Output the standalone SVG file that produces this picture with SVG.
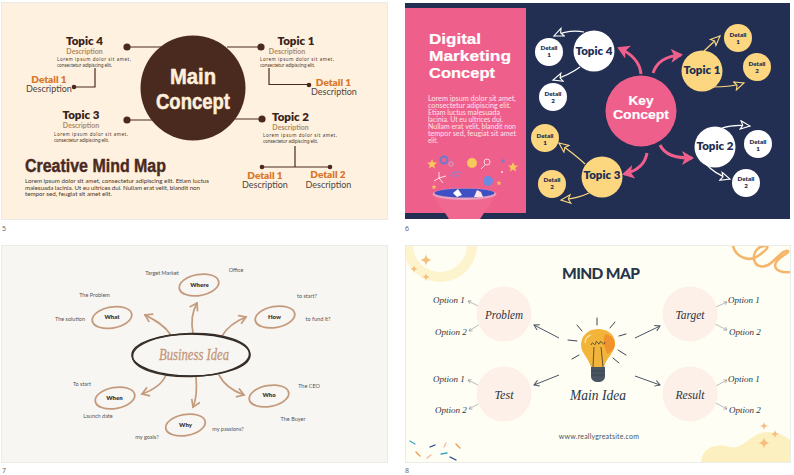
<svg xmlns="http://www.w3.org/2000/svg" width="794" height="475" viewBox="0 0 794 475">
<style>
text{font-family:"Lato","Liberation Sans",sans-serif}
.pg{font-size:7px;fill:#666;font-family:"Noto Sans",sans-serif}
.m{text-anchor:middle}
.cond{font-family:"Liberation Sans","Roboto",sans-serif;font-weight:700}
.t1{font-size:11.500px;font-weight:800;fill:#3A2318;text-anchor:middle}
.d1{font-size:7px;font-weight:700;fill:#B08A5F;text-anchor:middle}
.l1{font-size:4.500px;fill:#4A3428;font-family:"Noto Sans",sans-serif}
.o1{font-size:10px;font-weight:800;fill:#D9772B;text-anchor:middle}
.s1{font-size:9px;fill:#54443A;text-anchor:middle}
.ln1{fill:none;stroke:#4A2A1E;stroke-width:1.200}
.dot{fill:#4A2A1E}
.t2{font-size:11.500px;font-weight:800;text-anchor:middle;fill:#232F52}
.d2{font-size:6.200px;font-weight:800;text-anchor:middle;fill:#232F52}
.pk{fill:none;stroke:#EF5F8C;stroke-width:3;marker-end:url(#pinkHead)}
.wa{fill:none;stroke:#fff;stroke-width:1.200;marker-end:url(#whiteHead)}
.ya{fill:none;stroke:#FDD77F;stroke-width:1.200;marker-end:url(#yellowHead)}
.e3{fill:none;stroke:#C49A7C;stroke-width:1.800}
.t3{font-size:6px;font-weight:800;fill:#3d3833;text-anchor:middle}
.l3{font-size:5.500px;fill:#555;text-anchor:middle}
.a3{fill:none;stroke:#C49A7C;stroke-width:1.700;stroke-linecap:round;marker-end:url(#brownHead)}
.c4{fill:#FDF0E8}
.sc{font-family:"Liberation Serif",serif;font-style:italic;fill:#2A3442;text-anchor:middle}
.op{font-size:9px}
.big{fill:none;stroke:#4A5462;stroke-width:1;marker-end:url(#greyHead)}
.thin{fill:none;stroke:#8A8F94;stroke-width:.6;marker-end:url(#thinHead)}
.ray{stroke:#3D4650;stroke-width:1;stroke-linecap:round}
.star{fill:#F6BE7C}
.conf{stroke-width:1.300;stroke-linecap:round}
</style>
<defs>
<marker id="pinkHead" markerUnits="userSpaceOnUse" markerWidth="16" markerHeight="16" refX="10" refY="7" orient="auto"><path d="M0 0L12 7L0 14L3 7Z" fill="#EF5F8C"/></marker>
<marker id="whiteHead" markerUnits="userSpaceOnUse" markerWidth="13" markerHeight="11" refX="10.500" refY="5" orient="auto"><path d="M1 .8L10.500 5L1 9.200L3.200 5Z" fill="#232F52" stroke="#fff" stroke-width="1.100"/></marker>
<marker id="yellowHead" markerUnits="userSpaceOnUse" markerWidth="13" markerHeight="11" refX="10.500" refY="5" orient="auto"><path d="M1 .8L10.500 5L1 9.200L3.200 5Z" fill="#232F52" stroke="#FDD77F" stroke-width="1.100"/></marker>
<marker id="brownHead" markerUnits="userSpaceOnUse" markerWidth="12" markerHeight="12" refX="8" refY="5" orient="auto"><path d="M1 .5L8 5L1 9.500" fill="none" stroke="#C49A7C" stroke-width="1.700"/></marker>
<marker id="greyHead" markerUnits="userSpaceOnUse" markerWidth="9" markerHeight="9" refX="6" refY="4" orient="auto"><path d="M1 1L6 4L1 7" fill="none" stroke="#4A5462" stroke-width="1"/></marker>
<marker id="thinHead" markerUnits="userSpaceOnUse" markerWidth="6" markerHeight="6" refX="4" refY="2.500" orient="auto"><path d="M1 .7L4 2.500L1 4.300" fill="none" stroke="#8A8F94" stroke-width=".6"/></marker>
<path id="st4" d="M0-6C.8-1.800 1.800-.8 6 0C1.800 .8 .8 1.800 0 6C-.8 1.800-1.800 .8-6 0C-1.800-.8-.8-1.800 0-6Z"/>
<path id="st5" d="M0-5L1.400-1.600L5-1.400L2.200 .9L3.100 4.400L0 2.400L-3.100 4.400L-2.200 .9L-5-1.400L-1.400-1.600Z" fill="#F7C95C"/>
</defs>
<rect width="794" height="475" fill="#fff"/>

<g id="slide-5">
<rect x="1.500" y="2.500" width="386" height="217" fill="#FEF1DF" stroke="#E6E6E4" stroke-width=".8"/>
<g id="connectors-5">
<path class="ln1" d="M127 47H162M227 47H261M127 120H152M235 119H262M95 68V87H74M269 68V84.500H309M295 146V167M262 167H330"/>
</g>
<g id="main-concept"><circle cx="193" cy="88" r="52.500" fill="#4A2A1E"/>
<text class="cond m" x="193" y="84" font-size="21.500" fill="#FDEFD9" stroke="#FDEFD9" stroke-width=".5" textLength="46" lengthAdjust="spacingAndGlyphs">Main</text>
<text class="cond m" x="193" y="109" font-size="21.500" fill="#FDEFD9" stroke="#FDEFD9" stroke-width=".5" textLength="74" lengthAdjust="spacingAndGlyphs">Concept</text></g>
<g id="topic-4"><circle class="dot" cx="127" cy="47" r="3.600"/><text class="t1" x="84.500" y="44.500">Topic 4</text><text class="d1" x="84.500" y="53.500">Description</text>
<text class="l1" x="57" y="61" textLength="74">Lorem ipsum dolor sit amet,</text><text class="l1" x="57" y="66.500" textLength="55">consectetur adipiscing elit.</text></g>
<g id="topic-1"><circle class="dot" cx="261" cy="47" r="3.600"/><text class="t1" x="296" y="44.500">Topic 1</text><text class="d1" x="287" y="53.500">Description</text>
<text class="l1" x="260" y="61" textLength="74">Lorem ipsum dolor sit amet,</text><text class="l1" x="260" y="66.500" textLength="55">consectetur adipiscing elit.</text></g>
<g id="topic-3"><circle class="dot" cx="127" cy="120" r="3.600"/><text class="t1" x="81" y="119">Topic 3</text><text class="d1" x="81" y="128">Description</text>
<text class="l1" x="54" y="136" textLength="74">Lorem ipsum dolor sit amet,</text><text class="l1" x="54" y="141.500" textLength="55">consectetur adipiscing elit.</text></g>
<g id="topic-2"><circle class="dot" cx="262" cy="119" r="3.600"/><text class="t1" x="290.500" y="121">Topic 2</text><text class="d1" x="290.500" y="130">Description</text>
<text class="l1" x="263" y="137" textLength="74">Lorem ipsum dolor sit amet,</text><text class="l1" x="263" y="142.500" textLength="55">consectetur adipiscing elit.</text></g>
<g id="t4-detail-1"><circle class="dot" cx="74" cy="87" r="2.300"/><text class="o1" x="49" y="82.500">Detail 1</text><text class="s1" x="49" y="92">Description</text></g>
<g id="t1-detail-1"><circle class="dot" cx="309" cy="85" r="2.300"/><text class="o1" x="333.500" y="85.500">Detail 1</text><text class="s1" x="334" y="95">Description</text></g>
<g id="t2-detail-1"><circle class="dot" cx="262" cy="167" r="2.300"/><text class="o1" x="265" y="178.500">Detail 1</text><text class="s1" x="265" y="188">Description</text></g>
<g id="t2-detail-2"><circle class="dot" cx="330" cy="167" r="2.300"/><text class="o1" x="328" y="177.500">Detail 2</text><text class="s1" x="328.500" y="187.500">Description</text></g>
<text class="cond" x="25" y="172" font-size="18" fill="#4A2A1E" stroke="#4A2A1E" stroke-width=".4" textLength="141" lengthAdjust="spacingAndGlyphs">Creative Mind Map</text>
<g font-size="6.200" fill="#4A3428"><text x="25" y="183" textLength="184">Lorem ipsum dolor sit amet, consectetur adipiscing elit. Etiam luctus</text><text x="25" y="189.500" textLength="175">malesuada lacinia. Ut eu ultrices dui. Nullam erat velit, blandit non</text><text x="25" y="196" textLength="87">tempor sed, feugiat sit amet elit.</text></g>
<text class="pg" x="2" y="231">5</text>
</g>

<g id="slide-6">
<rect x="405" y="3" width="385" height="216" fill="#232F52"/>
<rect x="405" y="8" width="121" height="205" fill="#EF5F8C"/>
<path d="M433 195L449 219H480L496 195Z" fill="#F0688F"/>
<ellipse cx="464.500" cy="194" rx="32" ry="6" fill="#E8A0C0"/>
<ellipse cx="464.500" cy="193" rx="30" ry="4.500" fill="#3F4FC4"/>
<path d="M453 193L458 189L462 195L457 197Z" fill="#fff"/><path d="M474 197L477 190L481 192L483 197Z" fill="#FBE3EA"/>
<use href="#st5" x="432" y="164"/><use href="#st5" x="513" y="167"/><use href="#st5" transform="translate(434 187) scale(.5)"/><use href="#st5" transform="translate(499 183) scale(.5)"/>
<circle cx="472" cy="163" r="5" fill="#F7C95C"/><circle cx="444" cy="160" r="3.500" fill="none" stroke="#6A7BD0" stroke-width="2"/><circle cx="451" cy="164" r="2.200" fill="none" stroke="#C9A9D9" stroke-width="1"/>
<circle cx="487" cy="162" r="3" fill="none" stroke="#F8D6E0" stroke-width="1"/><path d="M485 165L481 169" stroke="#F8D6E0" stroke-width="1"/>
<path d="M450 176A8 8 0 0 1 461 173M453 178A4 4 0 0 1 459 176" fill="none" stroke="#9A80C8" stroke-width="1.300"/>
<circle cx="488" cy="181" r="5" fill="#6A8BE0"/><path d="M439 172V178L434 181M439 178L446 176M439 178L443 183" fill="none" stroke="#fff" stroke-width=".8"/>
<path d="M503 158L505 162L501 163Z" fill="#7C7BD0"/><circle cx="502" cy="172" r="1" fill="#FBE3EA"/>
<g class="cond" font-size="15" fill="#fff" stroke="#fff" stroke-width=".2"><text class="cond" x="429" y="44" textLength="52" lengthAdjust="spacingAndGlyphs">Digital</text><text class="cond" x="429" y="61" textLength="82" lengthAdjust="spacingAndGlyphs">Marketing</text><text class="cond" x="429" y="78" textLength="66" lengthAdjust="spacingAndGlyphs">Concept</text></g>
<g font-size="6.800" fill="#FDE3EA"><text x="428" y="101" textLength="88" lengthAdjust="spacingAndGlyphs">Lorem ipsum dolor sit amet,</text><text x="428" y="108" textLength="83" lengthAdjust="spacingAndGlyphs">consectetur adipiscing elit.</text><text x="428" y="115" textLength="72" lengthAdjust="spacingAndGlyphs">Etiam luctus malesuada</text><text x="428" y="122" textLength="75" lengthAdjust="spacingAndGlyphs">lacinia. Ut eu ultrices dui.</text><text x="428" y="129" textLength="88" lengthAdjust="spacingAndGlyphs">Nullam erat velit, blandit non</text><text x="428" y="136" textLength="88" lengthAdjust="spacingAndGlyphs">tempor sed, feugiat sit amet</text><text x="428" y="143" textLength="10" lengthAdjust="spacingAndGlyphs">elit.</text></g>
<g id="connectors-6">
<path class="pk" d="M641 74C640 63 632 54 619 48"/><path class="pk" d="M653 73C657 61 666 56 681 55"/><path class="pk" d="M660 145C665 155 675 158 692 158"/><path class="pk" d="M647 153C645 165 637 171 624 174"/>
<path class="wa" d="M584 32C573 30 563 32 554 36"/><path class="wa" d="M580 67C572 73 563 77 553 80"/><path class="wa" d="M722 128C731 125 741 125 750 126"/><path class="wa" d="M705 163C712 171 720 176 730 179"/>
<path class="ya" d="M704 51L720 36"/><path class="ya" d="M712 87C724 87 735 86 744 83"/><path class="ya" d="M585 164C577 156 568 150 559 143"/><path class="ya" d="M589 193C581 197 571 199 561 200"/>
</g>
<g id="key-concept"><circle cx="641" cy="111" r="35.500" fill="#EF5F8C"/><text class="cond m" x="641" y="105" font-size="12" fill="#fff" stroke="#fff" stroke-width=".15" textLength="25" lengthAdjust="spacingAndGlyphs">Key</text><text class="cond m" x="641" y="119" font-size="12" fill="#fff" stroke="#fff" stroke-width=".15" textLength="56" lengthAdjust="spacingAndGlyphs">Concept</text></g>
<g id="topic-4b"><circle cx="594" cy="51" r="20.500" fill="#fff"/><text class="t2" x="594" y="55">Topic 4</text></g>
<g id="topic-1b"><circle cx="702" cy="71" r="20.500" fill="#FDD77F"/><text class="t2" x="702" y="74">Topic 1</text></g>
<g id="topic-2b"><circle cx="715" cy="147" r="20.500" fill="#fff"/><text class="t2" x="715" y="150">Topic 2</text></g>
<g id="topic-3b"><circle cx="602" cy="177" r="20.500" fill="#FDD77F"/><text class="t2" x="602" y="179">Topic 3</text></g>
<g id="t4b-d1"><circle cx="549" cy="52" r="14" fill="#fff"/><text class="d2" x="549" y="50">Detail</text><text class="d2" x="549" y="57">1</text></g>
<g id="t4b-d2"><circle cx="553" cy="97" r="14" fill="#fff"/><text class="d2" x="553" y="95.500">Detail</text><text class="d2" x="553" y="103">2</text></g>
<g id="t1b-d1"><circle cx="738" cy="38" r="14" fill="#FDD77F"/><text class="d2" x="738" y="37">Detail</text><text class="d2" x="738" y="44">1</text></g>
<g id="t1b-d2"><circle cx="757" cy="67" r="14" fill="#FDD77F"/><text class="d2" x="757" y="65.500">Detail</text><text class="d2" x="757" y="73">2</text></g>
<g id="t2b-d1"><circle cx="758" cy="144" r="14" fill="#fff"/><text class="d2" x="758" y="143.500">Detail</text><text class="d2" x="758" y="151">1</text></g>
<g id="t2b-d2"><circle cx="746" cy="183" r="14" fill="#fff"/><text class="d2" x="746" y="180.500">Detail</text><text class="d2" x="746" y="188">2</text></g>
<g id="t3b-d1"><circle cx="545" cy="138" r="14" fill="#FDD77F"/><text class="d2" x="545" y="138">Detail</text><text class="d2" x="545" y="145">1</text></g>
<g id="t3b-d2"><circle cx="552" cy="184" r="14" fill="#FDD77F"/><text class="d2" x="552" y="181.500">Detail</text><text class="d2" x="552" y="189">2</text></g>
<text class="pg" x="405" y="231">6</text>
</g>

<g id="slide-7">
<rect x="1.500" y="245.500" width="386" height="217" fill="#F8F6F2" stroke="#E8E8E4" stroke-width=".8"/>
<g id="connectors-7">
<path class="a3" d="M170 334C164 325 155 320 145 315"/><path class="a3" d="M193 333C191 323 192 312 197 303"/><path class="a3" d="M222 336C228 326 236 321 246 317"/><path class="a3" d="M166 375C162 385 153 390 142 394"/><path class="a3" d="M196 377C197 388 197 398 193 407"/><path class="a3" d="M219 375C224 385 233 391 244 395"/>
</g>
<g id="business-idea"><ellipse cx="191" cy="355" rx="59" ry="21" fill="none" stroke="#2B2522" stroke-width="1.500"/><ellipse cx="191" cy="355" rx="58.500" ry="21.500" fill="none" stroke="#3A3028" stroke-width="1.500" transform="rotate(-1.500 191 355)"/><text class="m" x="194" y="360" style="font-family:'Liberation Serif',serif;font-style:italic" font-size="17" fill="#C4967A" stroke="#C4967A" stroke-width=".3" textLength="70" lengthAdjust="spacingAndGlyphs">Business Idea</text></g>
<g id="where"><ellipse class="e3" cx="199" cy="285" rx="20" ry="10.500" transform="rotate(-10 199 285)"/><text class="t3" x="199.500" y="286.500">Where</text></g>
<g id="what"><ellipse class="e3" cx="112" cy="317.500" rx="20" ry="10.500" transform="rotate(-10 112 317.500)"/><text class="t3" x="112" y="319">What</text></g>
<g id="how"><ellipse class="e3" cx="275" cy="317" rx="20" ry="10.500" transform="rotate(-10 275 317)"/><text class="t3" x="274.500" y="319">How</text></g>
<g id="when"><ellipse class="e3" cx="115" cy="398" rx="20" ry="10.500" transform="rotate(-10 115 398)"/><text class="t3" x="114.500" y="399.500">When</text></g>
<g id="who"><ellipse class="e3" cx="269" cy="396" rx="20" ry="10.500" transform="rotate(-10 269 396)"/><text class="t3" x="269" y="397">Who</text></g>
<g id="why"><ellipse class="e3" cx="185.500" cy="425" rx="20" ry="10.500" transform="rotate(-10 185.500 425)"/><text class="t3" x="185.500" y="427">Why</text></g>
<text class="l3" x="162" y="274.500">Target Market</text><text class="l3" x="236" y="272">Office</text><text class="l3" x="94.500" y="297">The Problem</text><text class="l3" x="70" y="321">The solution</text><text class="l3" x="307" y="298">to start?</text><text class="l3" x="318" y="321">to fund it?</text><text class="l3" x="82" y="385.500">To start</text><text class="l3" x="98" y="418">Launch date</text><text class="l3" x="309" y="387.500">The CEO</text><text class="l3" x="293" y="421">The Buyer</text><text class="l3" x="228" y="431">my passions?</text><text class="l3" x="147" y="438.500">my goals?</text>
<text class="pg" x="2" y="473">7</text>
</g>

<g id="slide-8">
<rect x="405.500" y="245.500" width="385" height="217" fill="#FFFEF5" stroke="#E8E8E4" stroke-width=".8"/>
<clipPath id="c8"><rect x="406" y="246" width="384" height="216"/></clipPath>
<g clip-path="url(#c8)">
<circle cx="440" cy="245" r="32" fill="none" stroke="#FDF3CC" stroke-width="10"/>
<path d="M733 246C736 258 750 262 758 256C765 251 770 247 766 246C759 245 753 252 754 259C755 267 764 269 771 263C778 257 785 249 788 251C790 253 776 258 775 265C775 271 783 273 790 272" fill="none" stroke="#F5B56B" stroke-width="2.500"/>
<path d="M701 462C702 446 718 443 730 447C745 450 750 432 768 432C778 432 785 436 790 440V462Z" fill="#FDF0C0"/>
<g class="conf"><path d="M410 441L415 444" stroke="#3BA6C4"/><path d="M430 447L435 445" stroke="#23418C"/><path d="M444 447L446 443" stroke="#F2B8A8"/><path d="M456 444L460 448" stroke="#EE9A40"/><path d="M416 452L420 456" stroke="#EE9A40"/><path d="M427 458L431 455" stroke="#F2B8A8"/><path d="M441 454L447 453" stroke="#3BA6C4"/><path d="M450 457L456 460" stroke="#23418C"/></g>
</g>
<use href="#st4" class="star" x="426" y="260"/><use href="#st4" class="star" transform="translate(414 269) scale(.65)"/><use href="#st4" class="star" transform="translate(426 277) scale(.65)"/>
<use href="#st4" class="star" transform="translate(764 426) scale(.7)"/><use href="#st4" class="star" transform="translate(775 434) scale(.7)"/><use href="#st4" class="star" x="764" y="443"/>
<text class="m" x="601" y="279" font-size="15.500" font-weight="900" fill="#26374A" textLength="78">MIND MAP</text>
<g id="connectors-8">
<path class="big" d="M559 338L534 325"/><path class="big" d="M635 338L660 326"/><path class="big" d="M559 375L534 385"/><path class="big" d="M635 376L660 385"/>
<path class="thin" d="M480 307L468 301"/><path class="thin" d="M480 324L469 331"/><path class="thin" d="M480 386L468 380"/><path class="thin" d="M480 403L469 409"/><path class="thin" d="M716 307L727 302"/><path class="thin" d="M715 324L727 330"/><path class="thin" d="M714 387L727 380"/><path class="thin" d="M714 402L727 409"/>
</g>
<g id="problem"><circle class="c4" cx="504" cy="314" r="27.500"/><text class="sc" x="504" y="319" font-size="13.500" textLength="38" lengthAdjust="spacingAndGlyphs">Problem</text></g>
<g id="target"><circle class="c4" cx="690" cy="314" r="27.500"/><text class="sc" x="690" y="319" font-size="13.500" textLength="29" lengthAdjust="spacingAndGlyphs">Target</text></g>
<g id="test"><circle class="c4" cx="504" cy="394" r="27.500"/><text class="sc" x="504" y="399" font-size="13.500" textLength="19" lengthAdjust="spacingAndGlyphs">Test</text></g>
<g id="result"><circle class="c4" cx="690" cy="394" r="27.500"/><text class="sc" x="690" y="399" font-size="13.500" textLength="29" lengthAdjust="spacingAndGlyphs">Result</text></g>
<g id="main-idea">
<path d="M598 329C586 329 581 338 581 345C581 353 588 357 591 367H604C606 358 615 353 615 343C615 335 608 329 598 329Z" fill="#F2B53A"/>
<path d="M605 334C612 335 615 340 615 345C614 350 610 353 607 354C605 348 602 342 605 334Z" fill="#F0932F"/>
<path d="M585 343C585 339 588 336 591 335" fill="none" stroke="#FBE6A8" stroke-width="1.300"/>
<path d="M593 367L594 347M603 367L601 347M591 345C593 339 595 349 596 342C597 339 599 348 600 342C601 339 604 348 605 342" fill="none" stroke="#3A3A3A" stroke-width=".8"/>
<path d="M591 367H605V376C605 380 602 382 598 382C594 382 591 380 591 376Z" fill="#4A5562"/>
<path d="M591 371H605M591 375H605" stroke="#2E3640" stroke-width=".5"/>
<path d="M597 318V325M577 325L582 331M610 328L615 322M619 336L626 334M568 340L577 341M618 350L626 355M572 359L579 355M613 358L619 363" class="ray"/>
<text class="sc" x="598" y="400" font-size="15.500" textLength="56" lengthAdjust="spacingAndGlyphs">Main Idea</text></g>
<g>
<text class="sc op" x="449" y="303">Option 1</text><text class="sc op" x="451" y="335">Option 2</text><text class="sc op" x="449" y="382">Option 1</text><text class="sc op" x="451" y="413">Option 2</text>
<text class="sc op" x="744" y="303">Option 1</text><text class="sc op" x="745" y="335">Option 2</text><text class="sc op" x="744" y="382">Option 1</text><text class="sc op" x="745" y="413">Option 2</text>
</g>
<text class="m" x="599" y="438.500" font-size="7" fill="#4A5462" letter-spacing=".2">www.reallygreatsite.com</text>
<text class="pg" x="405" y="473">8</text>
</g>
</svg>
